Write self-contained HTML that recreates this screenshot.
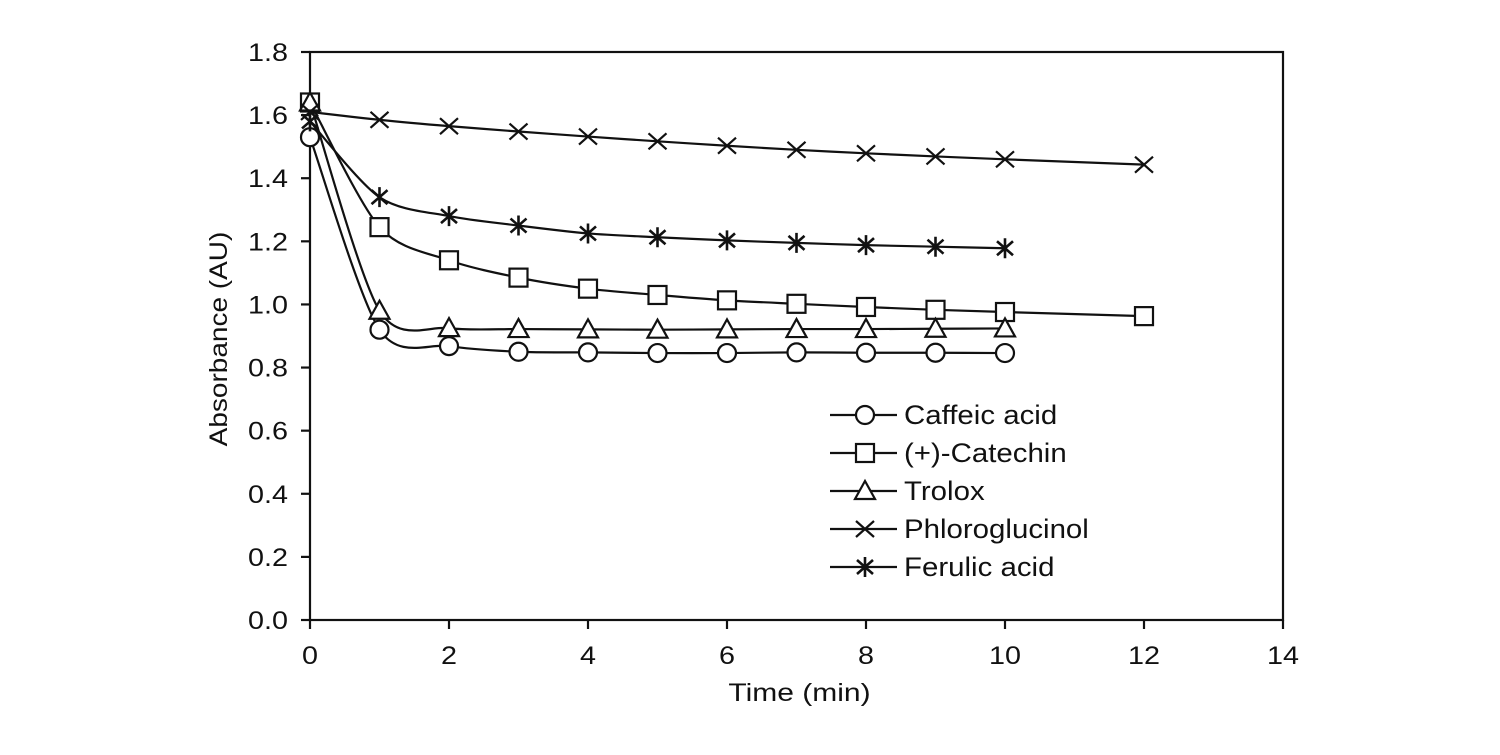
<!DOCTYPE html>
<html><head><meta charset="utf-8"><style>
body{margin:0;background:#fff}
svg text{font-family:"Liberation Sans",Arial,sans-serif;fill:#111}
</style></head><body>
<svg id="chart" width="1500" height="750" viewBox="0 0 1500 750">
<g id="axes"></g>
<g id="series"></g>
<g id="legend"></g>
</svg>
<script>
const xTicks=[0,2,4,6,8,10,12,14];
const yTicks=[0,0.2,0.4,0.6,0.8,1.0,1.2,1.4,1.6,1.8];
const seriesNames=["Caffeic acid","(+)-Catechin","Trolox","Phloroglucinol","Ferulic acid"];
const markerTypes=["circle","square","triangle","x","star"];
const timesA=[0,1,2,3,4,5,6,7,8,9,10];
const timesB=[0,1,2,3,4,5,6,7,8,9,10,12];
const caffeic=[1.53,0.92,0.868,0.85,0.848,0.846,0.846,0.848,0.847,0.847,0.846];
const catechin=[1.64,1.245,1.14,1.085,1.05,1.03,1.013,1.002,0.992,0.983,0.976,0.963];
const trolox=[1.64,0.98,0.925,0.922,0.921,0.92,0.921,0.922,0.922,0.923,0.924];
const phloro=[1.61,1.585,1.565,1.548,1.532,1.517,1.503,1.49,1.479,1.469,1.46,1.443];
const ferulic=[1.58,1.34,1.28,1.25,1.225,1.213,1.203,1.195,1.188,1.183,1.178];

const NS="http://www.w3.org/2000/svg";
const L=310,R=1283,T=52,B=620;
const xs=v=>L+(v/14)*(R-L);
const ys=v=>B-(v/1.8)*(B-T);
function mk(tag,attrs,parent){const e=document.createElementNS(NS,tag);for(const k in attrs)e.setAttribute(k,attrs[k]);parent.appendChild(e);return e;}
function txt(str,x,y,size,anchor,sx,parent,rot){
  const t=mk('text',{x:0,y:0,'text-anchor':anchor,'font-size':size,transform:`translate(${x},${y})${rot?' rotate(-90)':''} scale(${sx},1)`},parent);
  t.textContent=str;
  return t;
}
const axes=document.getElementById('axes');
const frame=mk('rect',{x:L,y:T,width:R-L,height:B-T,fill:'none',stroke:'#111','stroke-width':2.2},axes);


xTicks.forEach(t=>{
  const ln=mk('line',{x1:xs(t),x2:xs(t),y1:B,y2:B+9,stroke:'#111','stroke-width':2.2},axes);
  
  
  const tx=txt(String(t),xs(t),B+44,25,'middle',1.15,axes);
  
  
});
yTicks.forEach(t=>{
  const ln=mk('line',{x1:L-9,x2:L,y1:ys(t),y2:ys(t),stroke:'#111','stroke-width':2.2},axes);
  
  
  const tx=txt(t.toFixed(1),L-22,ys(t)+9,25,'end',1.15,axes);
  
  
});
const xt=txt('Time (min)',(L+R)/2+3,701,25,'middle',1.2,axes);


const yt=txt('Absorbance (AU)',227,(T+B)/2+3,25,'middle',1.12,axes,true);



function marker(type,cx,cy,parent){
  const s={stroke:'#111','stroke-width':2.2,fill:'#fff'};
  let e;
  if(type==='circle'){e=mk('circle',Object.assign({cx,cy,r:9},s),parent);}
  else if(type==='square'){e=mk('rect',Object.assign({x:cx-9,y:cy-9,width:18,height:18},s),parent);}
  else if(type==='triangle'){e=mk('polygon',Object.assign({points:`${cx},${cy-10} ${cx-10},${cy+8} ${cx+10},${cy+8}`},s),parent);}
  else if(type==='x'){e=mk('path',{d:`M${cx-9},${cy-8}L${cx+9},${cy+8}M${cx-9},${cy+8}L${cx+9},${cy-8}`,stroke:'#111','stroke-width':2.2,fill:'none'},parent);}
  else {e=mk('path',{d:`M${cx-8},${cy-7}L${cx+8},${cy+7}M${cx-8},${cy+7}L${cx+8},${cy-7}M${cx},${cy-10}L${cx},${cy+10}`,stroke:'#111','stroke-width':2.6,fill:'none'},parent);}
  return e;
}
function smoothPath(pts){
  let d=`M${pts[0][0]},${pts[0][1]}`;
  for(let i=0;i<pts.length-1;i++){
    const p0=pts[i-1]||pts[i],p1=pts[i],p2=pts[i+1],p3=pts[i+2]||p2;
    const k=1/7;
    const c1y=p1[1]+(p2[1]-p0[1])*k, c2y=p2[1]-(p3[1]-p1[1])*k;
    const c1x=p1[0]+(p2[0]-p0[0])*k, c2x=p2[0]-(p3[0]-p1[0])*k;
    d+=`C${c1x},${c1y} ${c2x},${c2y} ${p2[0]},${p2[1]}`;
  }
  return d;
}
const data=[[timesA,caffeic],[timesB,catechin],[timesA,trolox],[timesB,phloro],[timesA,ferulic]];
const sg=document.getElementById('series');
data.forEach(([tx,vals],i)=>{
  const g=mk('g',{},sg);
  
  
  const pts=vals.map((v,j)=>[xs(tx[j]),ys(v)]);
  const p=mk('path',{d:smoothPath(pts),fill:'none',stroke:'#111','stroke-width':2.2},g);
  
  
  pts.forEach(pt=>{
    const m=marker(markerTypes[i],pt[0],pt[1],g);
    
    
  });
});
const lg=document.getElementById('legend');
seriesNames.forEach((n,i)=>{
  const y=415+i*38;
  const g=mk('g',{},lg);
  
  
  mk('line',{x1:830,x2:897,y1:y,y2:y,stroke:'#111','stroke-width':2.2},g);
  marker(markerTypes[i],865,y,g);
  const t=txt(n,904,y+9,27,'start',1.09,g);
  
  
});
</script>
</body></html>
